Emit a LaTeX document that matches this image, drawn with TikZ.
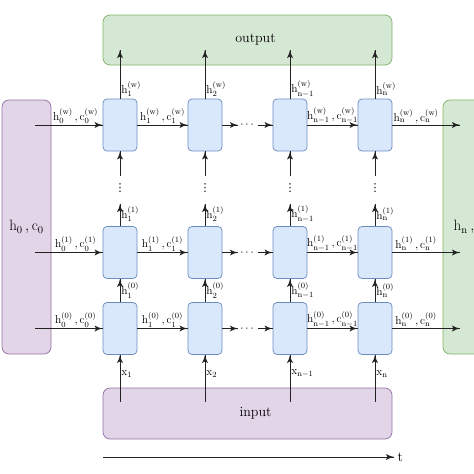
\documentclass[tikz,border=0pt]{standalone}
\usepackage{fix-cm}
\usepackage{amsmath}
\usepackage{fontspec}
\newfontfamily\symfont{DejaVu Sans}
\usepackage{tikz}
\usetikzlibrary{arrows}
\usetikzlibrary{decorations.markings}
\usetikzlibrary{positioning}
\tikzset{->/.style = {decoration={markings,
                                  mark=at position 1 with {\arrow[scale=1.6]{latex'}}},
                      postaction={decorate}}}
\definecolor{cellfill}{HTML}{DAE8FC}
\definecolor{celldraw}{HTML}{6C8EBF}
\definecolor{mpurple}{HTML}{E1D5E7}
\definecolor{dpurple}{HTML}{9673A6}
\definecolor{mgreen}{HTML}{D5E8D4}
\definecolor{dgreen}{HTML}{82B366}
\definecolor{mline}{HTML}{222222}
\tikzset{cell/.style = {draw=celldraw, fill=cellfill, rounded corners=4pt,
                        minimum width=34pt, minimum height=52pt, inner sep=0pt},
         pbox/.style = {draw=dpurple, fill=mpurple, rounded corners=7pt, inner sep=0pt},
         gbox/.style = {draw=dgreen, fill=mgreen, rounded corners=7pt, inner sep=0pt},
         lab/.style = {inner sep=1pt}}

\begin{document}
\begin{tikzpicture}[x=1pt, y=-1pt, font=\fontsize{11.5}{13}\selectfont, line width=0.75pt, draw=mline]
    \useasboundingbox (0, 0) rectangle (474, 474);

    % big boxes
    \node (init) [pbox, minimum width=49pt, minimum height=254pt] at (26.5, 227)
        {\fontsize{15}{18}\selectfont $\mathrm{h}_0\,,\mathrm{c}_0$};
    \node (final) [gbox, minimum width=57pt, minimum height=254pt] at (471.5, 227)
        {\fontsize{15}{18}\selectfont $\mathrm{h}_\mathrm{n}\,,\mathrm{c}_\mathrm{n}$};
    \node (output) [gbox, minimum width=289pt, minimum height=50pt,
        label={[xshift=8pt, font=\fontsize{14}{16}\selectfont]center:output}] at (247.5, 40) {};
    \node (input) [pbox, minimum width=289pt, minimum height=51pt,
        label={[xshift=8pt, font=\fontsize{14}{16}\selectfont]center:input}] at (247.5, 413.5) {};

    % cells and vertical arrows
    \foreach \c/\x/\s in {1/120/1, 2/205/2, 3/290/\mathrm{n-1}, 4/375/\mathrm{n}} {
        \node (top\c) [cell] at (\x, 125) {};
        \node (mid\c) [cell] at (\x, 252.5) {};
        \node (bot\c) [cell] at (\x, 328.5) {};
        \coordinate (in\c) at (\x, 402);
        \coordinate (up\c) at (\x, 204);
        \coordinate (dn\c) at (\x, 176);
        \coordinate (out\c) at (\x, 50);

        \draw [->] (in\c) -- (bot\c.south) node [lab, pos=0.6, right] {$\mathrm{x}_{\s}$};
        \draw [->] (bot\c.north) -- (mid\c.south) node [lab, midway, right] {$\mathrm{h}^{(0)}_{\s}$};
        \draw [->] (mid\c.north) -- (up\c) node [lab, pos=0.55, right] {$\mathrm{h}^{(1)}_{\s}$};
        \node (vd\c) [inner sep=0pt, font=\symfont\fontsize{11}{12}\selectfont] at (\x, 188) {⋮};
        \draw [->] (dn\c) -- (top\c.south);
        \draw [->] (top\c.north) -- (out\c) node [lab, pos=0.2, right] {$\mathrm{h}^{(\mathrm{w})}_{\s}$};
    }

    % horizontal arrows
    \foreach \r/\y/\k in {top/125/\mathrm{w}, mid/252.5/1, bot/328.5/0} {
        \coordinate (l\r) at (35, \y);
        \coordinate (r\r) at (460, \y);
        \node (hd\r) [inner sep=2pt] at (248, \y) {$\cdots$};
        \draw [->] (l\r) -- (\r1.west) node [lab, pos=0.6, above] {$\mathrm{h}^{(\k)}_0\,,\mathrm{c}^{(\k)}_0$};
        \draw [->] (\r1.east) -- (\r2.west) node [lab, midway, above] {$\mathrm{h}^{(\k)}_1\,,\mathrm{c}^{(\k)}_1$};
        \draw [->] (\r2.east) -- (hd\r.west);
        \draw [->] (hd\r.east) -- (\r3.west);
        \draw [->] (\r3.east) -- (\r4.west) node [lab, midway, above] {$\mathrm{h}^{(\k)}_\mathrm{n-1}\,,\mathrm{c}^{(\k)}_\mathrm{n-1}$};
        \draw [->] (\r4.east) -- (r\r) node [lab, pos=0.35, above] {$\mathrm{h}^{(\k)}_\mathrm{n}\,,\mathrm{c}^{(\k)}_\mathrm{n}$};
    }

    % time axis
    \coordinate (t0) at (103, 457);
    \coordinate (t1) at (394, 457);
    \draw [->] (t0) -- (t1) node [right, font=\fontsize{14}{16}\selectfont] {t};
\end{tikzpicture}
\end{document}
